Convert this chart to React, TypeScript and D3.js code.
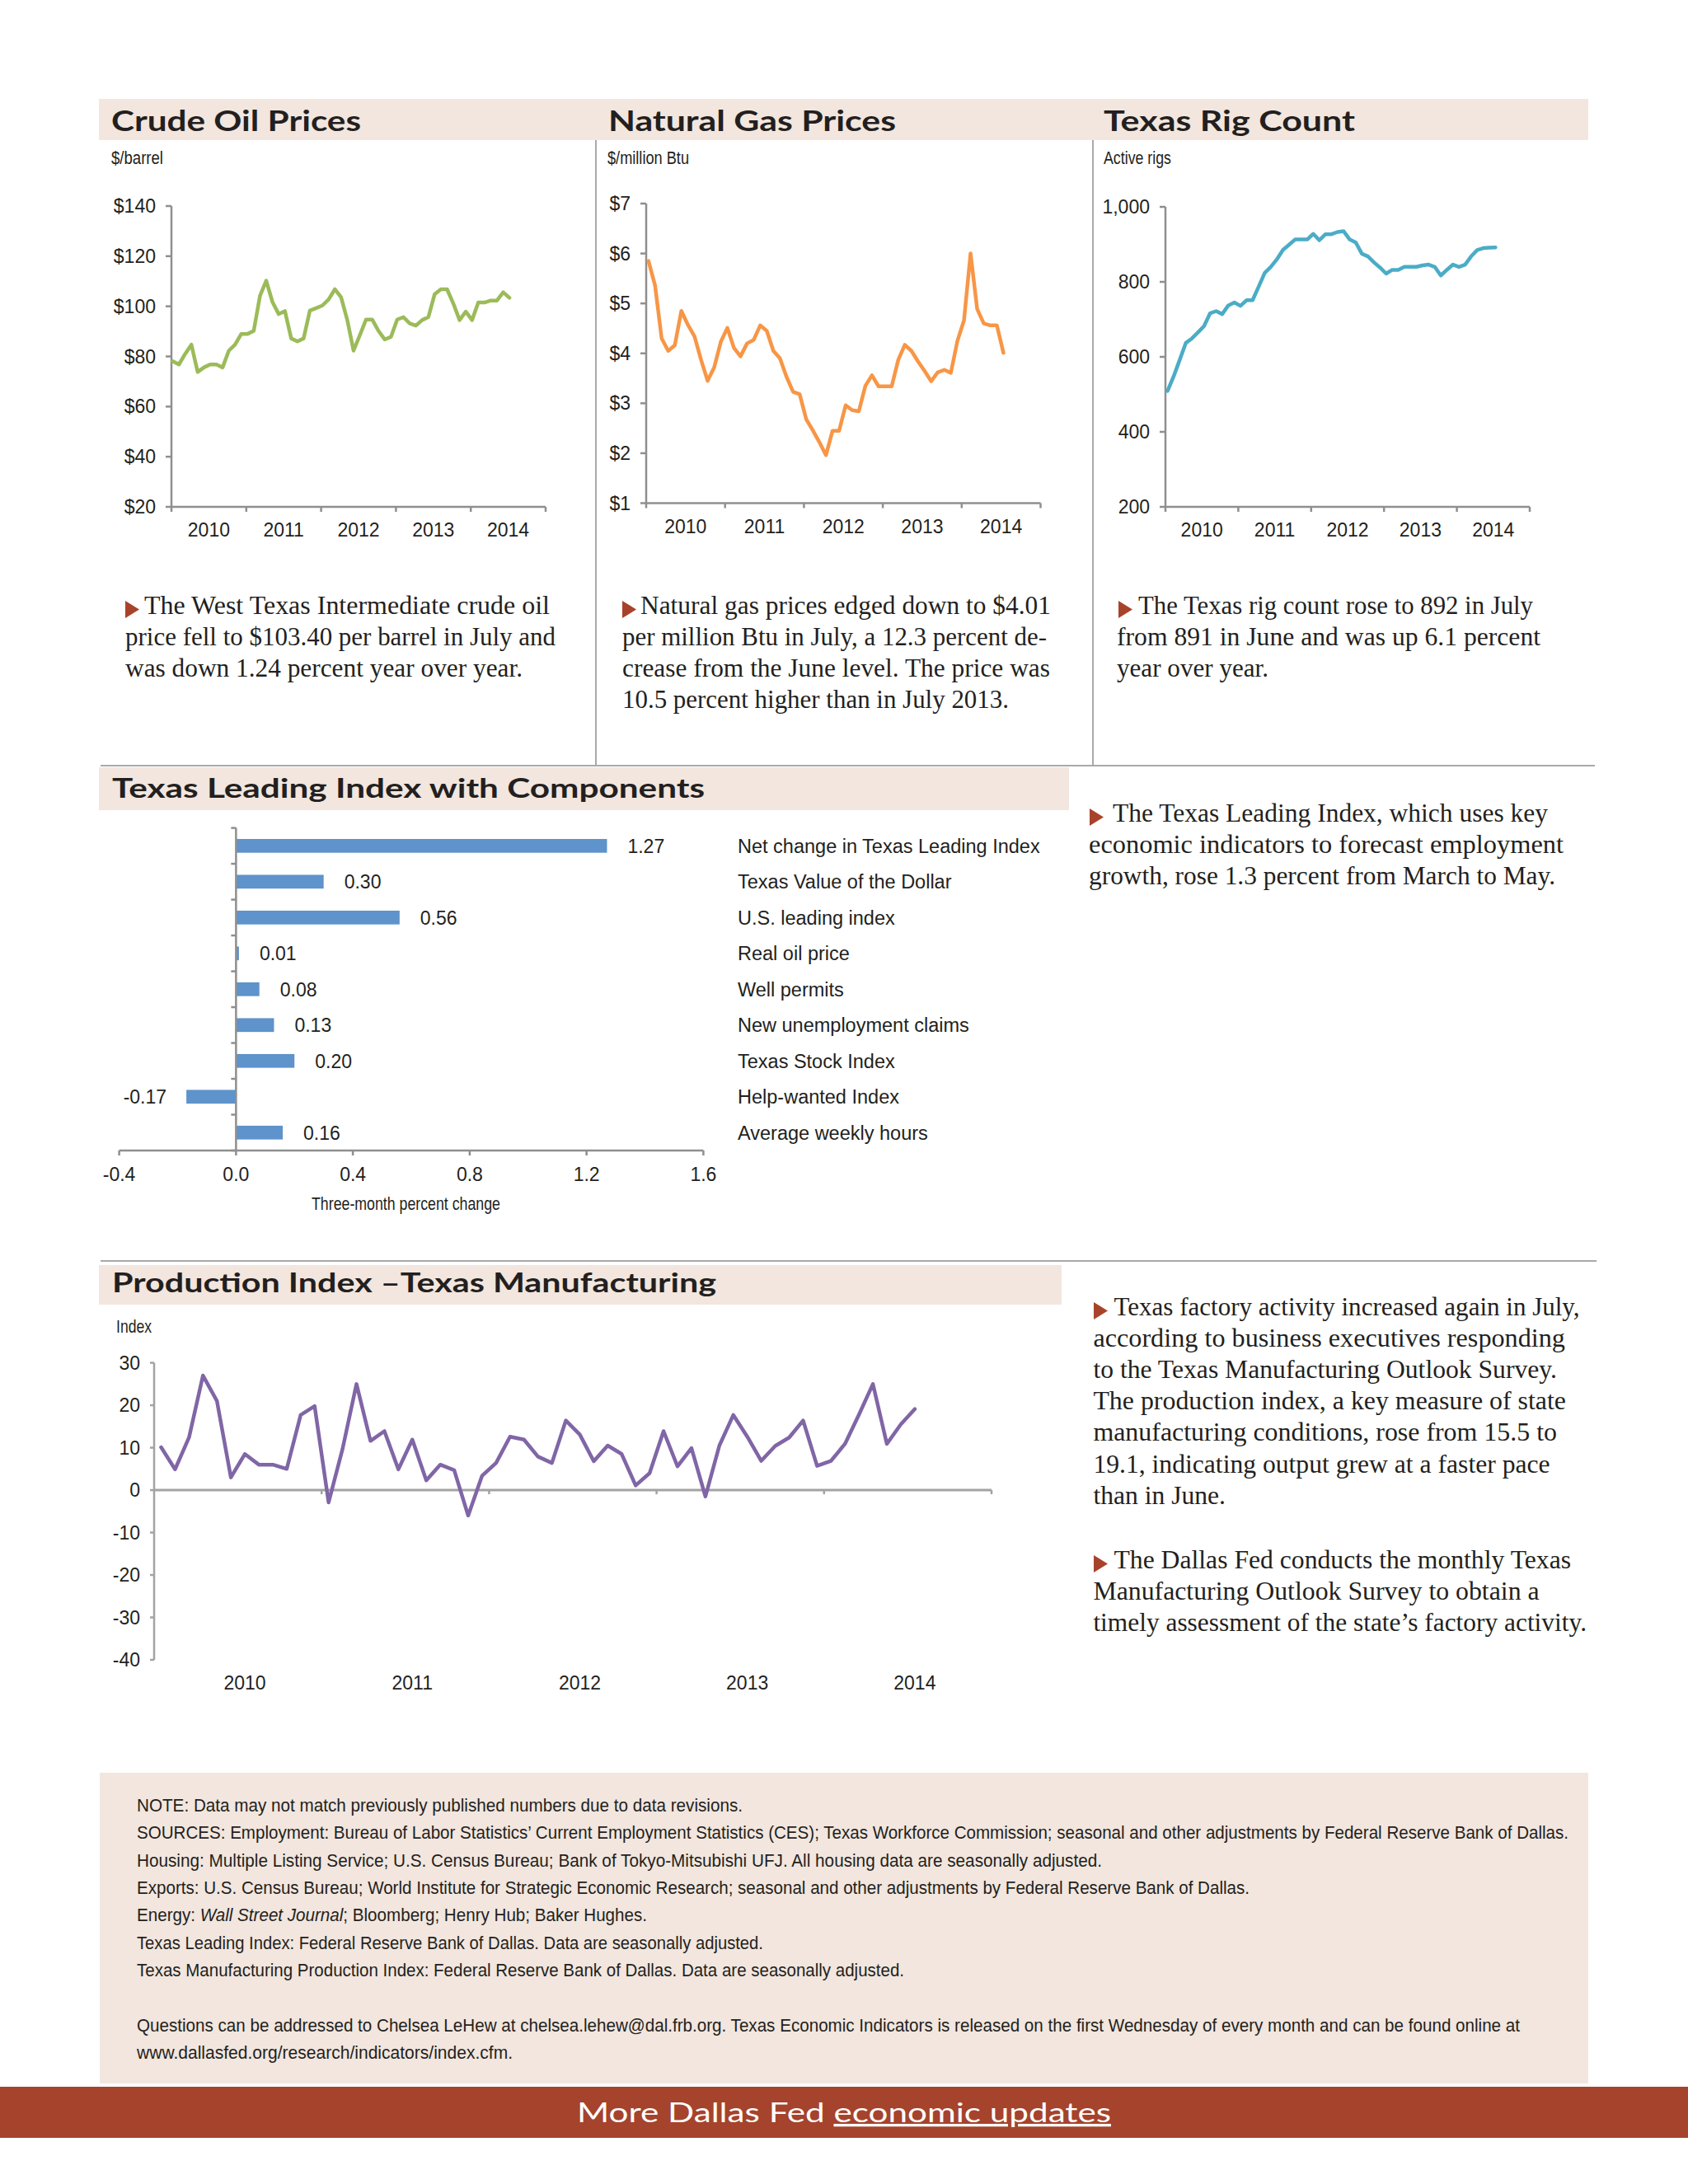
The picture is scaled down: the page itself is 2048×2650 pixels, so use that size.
import React from 'react';
import * as d3 from 'd3';

// ---------- DATA (monthly, Jan 2010 – Jul 2014) ----------
const years = ['2010', '2011', '2012', '2013', '2014'];

const oilPrices = [
  78.1, 76.8, 81.0, 84.7, 73.8, 75.6, 76.8, 76.8, 75.6, 82.3, 84.7, 89.0,
  89.0, 90.2, 104.2, 110.2, 101.7, 96.9, 98.1, 87.2, 86.0, 87.2, 98.3, 99.3,
  100.3, 102.7, 106.8, 103.6, 94.5, 82.3, 88.4, 94.7, 94.7, 90.2, 86.8, 87.8,
  94.7, 95.7, 93.2, 92.3, 94.5, 95.7, 104.8, 106.8, 106.8, 101.1, 94.5, 97.9,
  94.5, 101.5, 101.5, 102.3, 102.3, 105.6, 103.4,
];
const oilTicks = [20, 40, 60, 80, 100, 120, 140];

const gasPrices = [
  5.85, 5.36, 4.3, 4.05, 4.16, 4.85, 4.57, 4.34, 3.87, 3.45, 3.72, 4.23,
  4.51, 4.11, 3.94, 4.2, 4.27, 4.56, 4.45, 4.05, 3.9, 3.53, 3.23, 3.18,
  2.68, 2.46, 2.22, 1.96, 2.45, 2.45, 2.96, 2.86, 2.84, 3.35, 3.56, 3.34,
  3.34, 3.34, 3.87, 4.17, 4.05, 3.84, 3.65, 3.44, 3.62, 3.67, 3.61, 4.25,
  4.66, 6.0, 4.89, 4.6, 4.56, 4.56, 4.01,
];
const gasTicks = [1, 2, 3, 4, 5, 6, 7];

const rigCount = [
  509, 548, 592, 637, 649, 665, 682, 716, 722, 714, 737, 745,
  736, 751, 751, 787, 824, 840, 860, 885, 899, 913, 913, 913,
  928, 911, 927, 927, 933, 935, 913, 905, 875, 868, 852, 838,
  822, 832, 832, 840, 840, 840, 844, 846, 840, 817, 832, 846,
  840, 846, 868, 885, 890, 891, 892,
];
const rigTicks = [200, 400, 600, 800, 1000];

const leadingCategories = [
  'Net change in Texas Leading Index',
  'Texas Value of the Dollar',
  'U.S. leading index',
  'Real oil price',
  'Well permits',
  'New unemployment claims',
  'Texas Stock Index',
  'Help-wanted Index',
  'Average weekly hours',
];
const leadingValues = [1.27, 0.3, 0.56, 0.01, 0.08, 0.13, 0.2, -0.17, 0.16];
const leadingTicks = [-0.4, 0, 0.4, 0.8, 1.2, 1.6];

const productionIndex = [
  10.1, 4.9, 12.4, 27.0, 21.0, 3.0, 8.5, 6.0, 6.0, 5.0, 17.7, 19.8,
  -2.9, 9.7, 25.0, 11.6, 13.9, 4.9, 11.9, 2.3, 6.0, 4.7, -6.0, 3.4,
  6.4, 12.6, 11.9, 7.9, 6.4, 16.4, 13.1, 6.8, 10.5, 8.5, 1.1, 4.0,
  13.9, 5.6, 9.9, -1.5, 10.5, 17.7, 12.6, 6.9, 10.4, 12.4, 16.4, 5.7,
  6.9, 10.9, 17.8, 25.0, 10.9, 15.5, 19.1,
];
const productionTicks = [-40, -30, -20, -10, 0, 10, 20, 30];

// ---------- TEXT ----------
const oilText = [
  'The West Texas Intermediate crude oil',
  'price fell to $103.40 per barrel in July and',
  'was down 1.24 percent year over year.',
];
const gasText = [
  'Natural gas prices edged down to $4.01',
  'per million Btu in July, a 12.3 percent de-',
  'crease from the June level. The price was',
  '10.5 percent higher than in July 2013.',
];
const rigText = [
  'The Texas rig count rose to 892 in July',
  'from 891 in June and was up 6.1 percent',
  'year over year.',
];
const leadingText = [
  'The Texas Leading Index, which uses key',
  'economic indicators to forecast employment',
  'growth, rose 1.3 percent from March to May.',
];
const prodText1 = [
  'Texas factory activity increased again in July,',
  'according to business executives responding',
  'to the Texas Manufacturing Outlook Survey.',
  'The production index, a key measure of state',
  'manufacturing conditions, rose from 15.5 to',
  '19.1, indicating output grew at a faster pace',
  'than in June.',
];
const prodText2 = [
  'The Dallas Fed conducts the monthly Texas',
  'Manufacturing Outlook Survey to obtain a',
  'timely assessment of the state\u2019s factory activity.',
];
const notesLines = [
  'NOTE: Data may not match previously published numbers due to data revisions.',
  'SOURCES: Employment: Bureau of Labor Statistics\u2019 Current Employment Statistics (CES); Texas Workforce Commission; seasonal and other adjustments by Federal Reserve Bank of Dallas.',
  'Housing: Multiple Listing Service; U.S. Census Bureau; Bank of Tokyo-Mitsubishi UFJ. All housing data are seasonally adjusted.',
  'Exports: U.S. Census Bureau; World Institute for Strategic Economic Research; seasonal and other adjustments by Federal Reserve Bank of Dallas.',
  'ENERGY',
  'Texas Leading Index: Federal Reserve Bank of Dallas. Data are seasonally adjusted.',
  'Texas Manufacturing Production Index: Federal Reserve Bank of Dallas. Data are seasonally adjusted.',
  'Questions can be addressed to Chelsea LeHew at chelsea.lehew@dal.frb.org. Texas Economic Indicators is released on the first Wednesday of every month and can be found online at',
  'www.dallasfed.org/research/indicators/index.cfm.',
];

// ---------- STYLE ----------
const SANS = "'Liberation Sans', Arial, Helvetica, sans-serif";
const NARROW = "'Liberation Sans Narrow', 'Liberation Sans', Arial, sans-serif";
const SERIF = "'Liberation Serif', 'Times New Roman', serif";
const TITLE = "Lato, 'Noto Sans', sans-serif";
const INK = '#231f20';
const HEADER_FILL = '#f2e6de';
const RED = '#a5432c';
const AXIS = '#8f8f8f';
const RULE = '#a9a9a9';

// ---------- COMPONENTS ----------
type LineProps = {
  data: number[];
  color: string;
  xl: number;
  xr: number;
  yt: number;
  yb: number;
  domain: [number, number];
  ticks: number[];
  fmt: (v: number) => string;
  offset: number;
};

function TopLineChart({ data, color, xl, xr, yt, yb, domain, ticks, fmt, offset }: LineProps) {
  const x = d3.scaleLinear().domain([0, 60]).range([xl, xr]);
  const y = d3.scaleLinear().domain(domain).range([yb, yt]);
  const line = d3
    .line<number>()
    .x((_, i) => x(i + offset))
    .y((d) => y(d));
  const yearBounds = d3.range(0, 61, 12);
  return (
    <g>
      <line x1={xl} x2={xl} y1={yt} y2={yb} stroke={AXIS} strokeWidth={2.5} />
      <line x1={xl} x2={xr} y1={yb} y2={yb} stroke={AXIS} strokeWidth={2.5} />
      {ticks.map((t) => (
        <g key={t}>
          <line x1={xl - 7} x2={xl} y1={y(t)} y2={y(t)} stroke={AXIS} strokeWidth={2.5} />
          <text x={xl - 19} y={y(t) + 8} textAnchor="end" fontFamily={SANS} fontSize={23} fill={INK}>
            {fmt(t)}
          </text>
        </g>
      ))}
      {yearBounds.map((m) => (
        <line key={m} x1={x(m)} x2={x(m)} y1={yb} y2={yb + 6} stroke={AXIS} strokeWidth={2.5} />
      ))}
      {years.map((yr, k) => (
        <text key={yr} x={x(k * 12 + 6)} y={yb + 36} textAnchor="middle" fontFamily={SANS} fontSize={23} fill={INK}>
          {yr}
        </text>
      ))}
      <path
        d={line(data) || ''}
        fill="none"
        stroke={color}
        strokeWidth={4.5}
        strokeLinejoin="round"
        strokeLinecap="round"
      />
    </g>
  );
}

function Arrow({ x, base }: { x: number; base: number }) {
  return <polygon points={`${x},${base - 16} ${x + 17},${base - 5.5} ${x},${base + 5}`} fill="#a8432b" />;
}

type ParaLine = { x: number; end: number };
function Para({
  lines,
  layout,
  arrowX,
  base,
  step,
}: {
  lines: string[];
  layout: ParaLine[];
  arrowX: number;
  base: number;
  step: number;
}) {
  return (
    <g>
      <Arrow x={arrowX} base={base} />
      {lines.map((t, i) => (
        <text
          key={i}
          x={layout[i].x}
          y={base + i * step}
          fontFamily={SERIF}
          fontSize={31}
          fill={INK}
          textLength={layout[i].end - layout[i].x}
          lengthAdjust="spacingAndGlyphs"
        >
          {t}
        </text>
      ))}
    </g>
  );
}

function Title({ x, y, end, size, children }: { x: number; y: number; end: number; size: number; children: string }) {
  return (
    <text
      x={x}
      y={y}
      fontFamily={TITLE}
      fontWeight={700}
      fontSize={size}
      fill={INK}
      textLength={end - x}
      lengthAdjust="spacingAndGlyphs"
    >
      {children}
    </text>
  );
}

function SmallLabel({ x, y, end, children }: { x: number; y: number; end: number; children: string }) {
  return (
    <text
      x={x}
      y={y}
      fontFamily={NARROW}
      fontSize={22}
      fill={INK}
      textLength={end - x}
      lengthAdjust="spacingAndGlyphs"
    >
      {children}
    </text>
  );
}

function LeadingChart() {
  const x = d3.scaleLinear().domain([-0.4, 1.6]).range([144.6, 853.4]);
  const y = d3.scaleBand().domain(leadingCategories).range([1004.6, 1396]);
  const bw = y.bandwidth();
  const barH = 16.7;
  const x0 = x(0);
  const bounds = d3.range(leadingCategories.length + 1).map((i) => 1004.6 + i * bw);
  return (
    <g>
      {leadingCategories.map((c, i) => {
        const v = leadingValues[i];
        const yc = (y(c) as number) + bw / 2;
        const xa = x(Math.min(0, v));
        const xb = x(Math.max(0, v));
        return (
          <g key={c}>
            <rect x={xa} y={yc - barH / 2} width={Math.max(1.5, xb - xa)} height={barH} fill="#5e93cb" />
            <text
              x={v >= 0 ? x(v) + 25 : x(v) - 24}
              y={yc + 8.5}
              textAnchor={v >= 0 ? 'start' : 'end'}
              fontFamily={SANS}
              fontSize={23}
              fill={INK}
            >
              {v.toFixed(2)}
            </text>
            <text x={895} y={yc + 8.5} fontFamily={SANS} fontSize={23.5} fill={INK}>
              {c}
            </text>
          </g>
        );
      })}
      <line x1={x0} x2={x0} y1={1004.6} y2={1396} stroke={AXIS} strokeWidth={2.5} />
      {bounds.map((b, i) => (
        <line key={i} x1={x0 - 6} x2={x0} y1={b} y2={b} stroke={AXIS} strokeWidth={2.5} />
      ))}
      <line x1={x(-0.4)} x2={x(1.6)} y1={1396} y2={1396} stroke={AXIS} strokeWidth={2.5} />
      {leadingTicks.map((t) => (
        <g key={t}>
          <line x1={x(t)} x2={x(t)} y1={1396} y2={1402} stroke={AXIS} strokeWidth={2.5} />
          <text x={x(t)} y={1433} textAnchor="middle" fontFamily={SANS} fontSize={23} fill={INK}>
            {t.toFixed(1)}
          </text>
        </g>
      ))}
      <SmallLabel x={378} y={1468} end={607}>
        Three-month percent change
      </SmallLabel>
    </g>
  );
}

function ProductionChart() {
  const x = d3.scaleLinear().domain([0, 60]).range([187, 1203]);
  const y = d3.scaleLinear().domain([-40, 30]).range([2014, 1653.6]);
  const line = d3
    .line<number>()
    .x((_, i) => x(i + 0.5))
    .y((d) => y(d));
  const ax = '#a3a3a3';
  return (
    <g>
      <line x1={187} x2={187} y1={y(30)} y2={y(-40)} stroke={ax} strokeWidth={2.5} />
      {productionTicks.map((t) => (
        <g key={t}>
          <line x1={182} x2={187} y1={y(t)} y2={y(t)} stroke={ax} strokeWidth={2.5} />
          <text x={170} y={y(t) + 8} textAnchor="end" fontFamily={SANS} fontSize={23} fill={INK}>
            {t}
          </text>
        </g>
      ))}
      <line x1={187} x2={1203} y1={y(0)} y2={y(0)} stroke={ax} strokeWidth={3} />
      {d3.range(12, 61, 12).map((m) => (
        <line key={m} x1={x(m)} x2={x(m)} y1={y(0)} y2={y(0) + 5} stroke={ax} strokeWidth={2.5} />
      ))}
      {years.map((yr, k) => (
        <text key={yr} x={x(k * 12 + 6.5)} y={2050} textAnchor="middle" fontFamily={SANS} fontSize={23} fill={INK}>
          {yr}
        </text>
      ))}
      <path
        d={line(productionIndex) || ''}
        fill="none"
        stroke="#8066a6"
        strokeWidth={4.5}
        strokeLinejoin="round"
        strokeLinecap="round"
      />
    </g>
  );
}

export default function App() {
  const noteEnds = [901, 1903, 1337, 1516, 785, 926, 1097, 1844, 622];
  const noteRows = [0, 1, 2, 3, 4, 5, 6, 8, 9];
  return (
    <svg
      width={2048}
      height={2650}
      viewBox="0 0 2048 2650"
      style={{ position: 'absolute', left: 0, top: 0, display: 'block', background: '#fff' }}
    >
      <rect x={0} y={0} width={2048} height={2650} fill="#fff" />

      {/* Top header band */}
      <rect x={120} y={120} width={1807} height={50} fill={HEADER_FILL} />
      <Title x={135} y={158.5} end={438} size={34.5}>Crude Oil Prices</Title>
      <Title x={738} y={158.5} end={1087} size={34.5}>Natural Gas Prices</Title>
      <Title x={1339} y={158.5} end={1644} size={34.5}>Texas Rig Count</Title>

      {/* separators */}
      <line x1={723} x2={723} y1={170} y2={929} stroke={RULE} strokeWidth={2} />
      <line x1={1326} x2={1326} y1={170} y2={929} stroke={RULE} strokeWidth={2} />
      <line x1={122} x2={1935} y1={929} y2={929} stroke={RULE} strokeWidth={2} />
      <line x1={122} x2={1937} y1={1530} y2={1530} stroke={RULE} strokeWidth={2} />

      {/* unit labels */}
      <SmallLabel x={135} y={199} end={198}>$/barrel</SmallLabel>
      <SmallLabel x={737} y={199} end={836}>$/million Btu</SmallLabel>
      <SmallLabel x={1339} y={199} end={1421}>Active rigs</SmallLabel>

      <TopLineChart
        data={oilPrices}
        color="#9bbb59"
        xl={208}
        xr={662}
        yt={250}
        yb={615}
        domain={[20, 140]}
        ticks={oilTicks}
        fmt={(v) => `$${v}`}
        offset={0.2}
      />
      <TopLineChart
        data={gasPrices}
        color="#f79646"
        xl={784}
        xr={1262.5}
        yt={247}
        yb={610.5}
        domain={[1, 7]}
        ticks={gasTicks}
        fmt={(v) => `$${v}`}
        offset={0.35}
      />
      <TopLineChart
        data={rigCount}
        color="#4bacc6"
        xl={1414}
        xr={1856}
        yt={251}
        yb={615}
        domain={[200, 1000]}
        ticks={rigTicks}
        fmt={(v) => d3.format(',')(v)}
        offset={0.35}
      />

      <Para
        lines={oilText}
        arrowX={152}
        base={745}
        step={38}
        layout={[
          { x: 175, end: 667 },
          { x: 152, end: 674 },
          { x: 152, end: 634 },
        ]}
      />
      <Para
        lines={gasText}
        arrowX={755}
        base={745}
        step={38}
        layout={[
          { x: 777, end: 1275 },
          { x: 755, end: 1270 },
          { x: 755, end: 1274 },
          { x: 755, end: 1224 },
        ]}
      />
      <Para
        lines={rigText}
        arrowX={1357}
        base={745}
        step={38}
        layout={[
          { x: 1381, end: 1860 },
          { x: 1355, end: 1869 },
          { x: 1355, end: 1539 },
        ]}
      />

      {/* Leading index */}
      <rect x={120} y={931} width={1177} height={52} fill={HEADER_FILL} />
      <Title x={136} y={968} end={855} size={32}>Texas Leading Index with Components</Title>
      <LeadingChart />
      <Para
        lines={leadingText}
        arrowX={1322}
        base={997}
        step={38}
        layout={[
          { x: 1350, end: 1878 },
          { x: 1321, end: 1897 },
          { x: 1321, end: 1887 },
        ]}
      />

      {/* Production */}
      <rect x={120} y={1535} width={1168} height={48} fill={HEADER_FILL} />
      <Title x={136} y={1568} end={869} size={32}>{'Production Index \u2013Texas Manufacturing'}</Title>
      <SmallLabel x={141} y={1617} end={184}>Index</SmallLabel>
      <ProductionChart />
      <Para
        lines={prodText1}
        arrowX={1327}
        base={1596}
        step={38.1}
        layout={[
          { x: 1351.5, end: 1916.6 },
          { x: 1326.4, end: 1899 },
          { x: 1326.4, end: 1889 },
          { x: 1326.4, end: 1900 },
          { x: 1326.4, end: 1889 },
          { x: 1326.4, end: 1880.6 },
          { x: 1326.4, end: 1487 },
        ]}
      />
      <Para
        lines={prodText2}
        arrowX={1327}
        base={1903}
        step={38.1}
        layout={[
          { x: 1351.5, end: 1906 },
          { x: 1326.4, end: 1867.6 },
          { x: 1326.4, end: 1925 },
        ]}
      />

      {/* Notes box */}
      <rect x={121} y={2151} width={1806} height={377} fill={HEADER_FILL} />
      {notesLines.map((t, i) => (
        <text
          key={i}
          x={166}
          y={2198 + noteRows[i] * 33.35}
          fontFamily={NARROW}
          fontSize={22.5}
          fill={INK}
          textLength={noteEnds[i] - 166}
          lengthAdjust="spacingAndGlyphs"
        >
          {t === 'ENERGY' ? (
            <>
              <tspan>Energy: </tspan>
              <tspan fontStyle="italic">Wall Street Journal</tspan>
              <tspan>; Bloomberg; Henry Hub; Baker Hughes.</tspan>
            </>
          ) : (
            t
          )}
        </text>
      ))}

      {/* Footer band */}
      <rect x={0} y={2532} width={2048} height={62} fill={RED} />
      <text
        x={700}
        y={2575}
        fontFamily={TITLE}
        fontSize={33}
        fill="#ffffff"
        textLength={648}
        lengthAdjust="spacingAndGlyphs"
      >
        <tspan>More Dallas Fed </tspan>
        <tspan textDecoration="underline" style={{ textDecoration: 'underline' }}>
          economic updates
        </tspan>
      </text>
    </svg>
  );
}
